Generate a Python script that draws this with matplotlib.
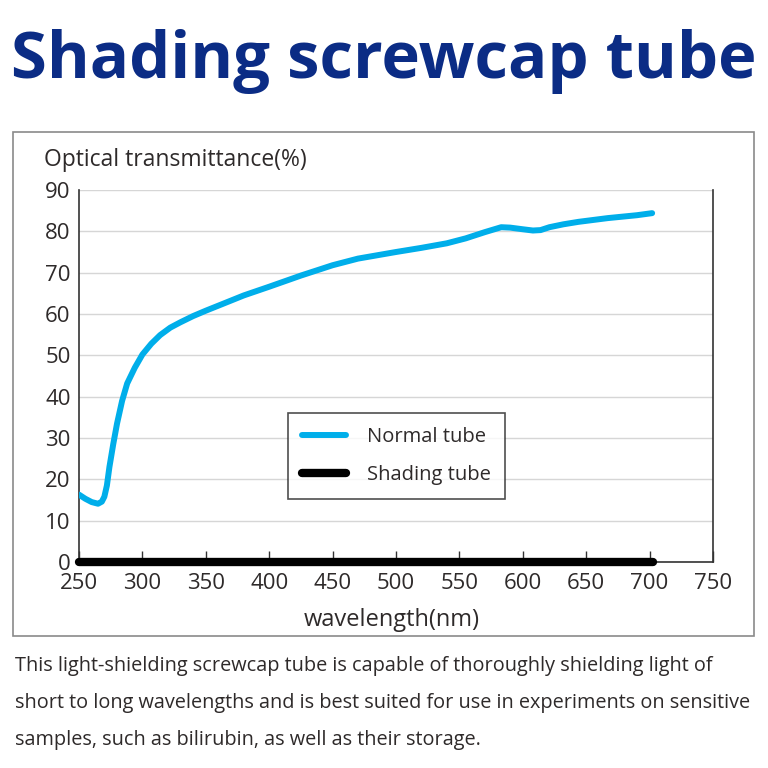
import matplotlib
matplotlib.use("Agg")
import matplotlib.pyplot as plt
from matplotlib.patches import Rectangle

# data
wavelength = [250, 255, 260, 265, 268, 270, 272, 274, 277, 280, 284, 288, 294, 300,
              307, 314, 322, 330, 340, 350, 363, 380, 400, 425, 450, 470, 500, 520,
              540, 555, 570, 583, 590, 600, 608, 614, 621, 632, 644, 667, 690, 702]
normal_tube = [16.3, 15.3, 14.5, 14.1, 14.6, 15.8, 18.5, 23.0, 28.5, 33.5, 39.0, 43.2,
               47.0, 50.2, 52.8, 54.9, 56.7, 58.0, 59.5, 60.8, 62.4, 64.5, 66.6, 69.3,
               71.8, 73.4, 75.0, 76.0, 77.1, 78.3, 79.8, 81.0, 80.9, 80.5, 80.2, 80.3,
               81.0, 81.7, 82.3, 83.2, 83.9, 84.4]
shading_x = [250, 703]
shading_tube = [0, 0]

x_ticks = [250, 300, 350, 400, 450, 500, 550, 600, 650, 700, 750]
y_ticks = [0, 10, 20, 30, 40, 50, 60, 70, 80, 90]

title = "Shading screwcap tube"
caption = ("This light-shielding screwcap tube is capable of thoroughly shielding light of\n"
           "short to long wavelengths and is best suited for use in experiments on sensitive\n"
           "samples, such as bilirubin, as well as their storage.")

plt.rcParams['font.family'] = ['Open Sans', 'DejaVu Sans']
text_col = '#2e2a2a'

fig = plt.figure(figsize=(7.68, 7.68), dpi=100)
fig.patch.set_facecolor('white')

# outer frame around the chart
fig.patches.append(Rectangle((13 / 768, 1 - 636 / 768), 741 / 768, 504 / 768,
                             transform=fig.transFigure, fill=False,
                             edgecolor='#8a8a8a', linewidth=1.2))

ax = fig.add_axes([79 / 768, 1 - 562 / 768, (713 - 79) / 768, (562 - 190) / 768])

ax.plot(wavelength, normal_tube, color='#00aeea', linewidth=4.3,
        solid_capstyle='round', solid_joinstyle='round', label='Normal tube', zorder=3)
ax.plot(shading_x, shading_tube, color='black', linewidth=6,
        solid_capstyle='round', label='Shading tube', zorder=4, clip_on=False)

ax.set_xlim(250, 750)
ax.set_ylim(0, 90)
ax.set_xticks(x_ticks)
ax.set_yticks(y_ticks)
ax.tick_params(axis='x', direction='in', length=8, width=1, colors='#333333',
               labelcolor=text_col, labelsize=16, pad=8)
ax.tick_params(axis='y', length=0, labelcolor=text_col, labelsize=16, pad=6)

ax.grid(axis='y', color='#d6d6d6', linewidth=1)
ax.set_axisbelow(True)
ax.spines['top'].set_visible(False)
for side in ['left', 'right', 'bottom']:
    ax.spines[side].set_color('#333333')
    ax.spines[side].set_linewidth(1.2)

fig.text(392 / 768, 1 - 620 / 768, 'wavelength(nm)', fontsize=17, color=text_col,
         ha='center', va='center')
fig.text(44 / 768, 1 - 160 / 768, 'Optical transmittance(%)', fontsize=16.5,
         color=text_col, va='center', ha='left')

leg = ax.legend(loc='upper left', bbox_to_anchor=((288 - 79) / 634, 1 - (413 - 190) / 372),
                borderaxespad=0, fontsize=14.5, frameon=True, fancybox=False,
                handlelength=2.2, handletextpad=1.0, borderpad=0.7, labelspacing=0.9)
leg.get_frame().set_edgecolor('#222222')
leg.get_frame().set_linewidth(1.2)
for t in leg.get_texts():
    t.set_color(text_col)

fig.text(384 / 768, 1 - 62 / 768, title, fontsize=47, fontweight='bold',
         color='#0b2c85', ha='center', va='center')
fig.text(15 / 768, 1 - 703 / 768, caption, fontsize=14.3, color=text_col,
         ha='left', va='center', linespacing=2.15)

fig.savefig('out.png', dpi=100)
